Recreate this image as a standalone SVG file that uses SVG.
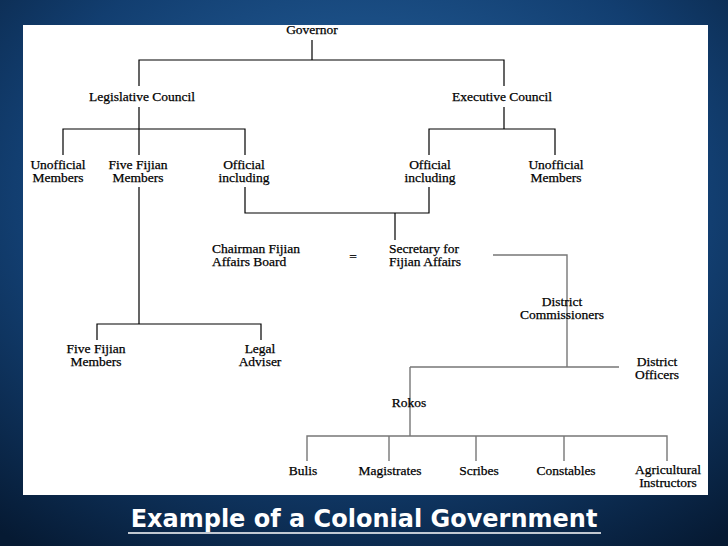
<svg xmlns="http://www.w3.org/2000/svg" width="728" height="546" viewBox="0 0 728 546">
<defs>
<radialGradient id="bg" cx="0.5" cy="0.35" r="0.8">
<stop offset="0" stop-color="#2a6aa8"/><stop offset="0.6" stop-color="#123e70"/><stop offset="1" stop-color="#061a33"/>
</radialGradient>
</defs>
<style>
text{font-family:"Liberation Serif",serif;font-size:13.5px;fill:#000;stroke:#000;stroke-width:0.25}
.t{text-anchor:middle}
.c{stroke:#000;stroke-width:1.2;fill:none}
.g{stroke:#777;stroke-width:1.4;fill:none}
</style>
<rect width="728" height="546" fill="url(#bg)"/>
<rect x="23" y="25" width="685" height="470" fill="#fff"/>
<g id="connectors">
<path class="c" d="M312 40V60M139 86V60H504V86"/>
<path class="c" d="M139 107V155M63 155V129H245V155"/>
<path class="c" d="M504 107V129M429 155V129H555V155"/>
<path class="c" d="M245 187V213H429V187M395 213V240"/>
<path class="c" d="M139 187V324M97 340V324H261V340"/>
<path class="g" d="M493 255H567V367M410 367H619M410 367V436M307 461V436H667V461M389 436V461M476 436V461M564 436V461"/>
</g>
<g id="governor"><text class="t" x="312" y="34">Governor</text></g>
<g id="legislative"><text class="t" x="142" y="101">Legislative Council</text></g>
<g id="executive"><text class="t" x="502" y="101">Executive Council</text></g>
<g id="leg-unofficial"><text class="t" x="58" y="169">Unofficial</text><text class="t" x="58" y="182">Members</text></g>
<g id="leg-fivefijian"><text class="t" x="138" y="169">Five Fijian</text><text class="t" x="138" y="182">Members</text></g>
<g id="leg-official"><text class="t" x="244" y="169">Official</text><text class="t" x="244" y="182">including</text></g>
<g id="exe-official"><text class="t" x="430" y="169">Official</text><text class="t" x="430" y="182">including</text></g>
<g id="exe-unofficial"><text class="t" x="556" y="169">Unofficial</text><text class="t" x="556" y="182">Members</text></g>
<g id="chairman"><text x="212" y="253">Chairman Fijian</text><text x="212" y="266">Affairs Board</text></g>
<g id="equals"><text class="t" x="353" y="261">=</text></g>
<g id="secretary"><text x="389" y="253">Secretary for</text><text x="389" y="266">Fijian Affairs</text></g>
<g id="district-commissioners"><text class="t" x="562" y="306">District</text><text class="t" x="562" y="319">Commissioners</text></g>
<g id="district-officers"><text class="t" x="657" y="366">District</text><text class="t" x="657" y="379">Officers</text></g>
<g id="five-fijian-2"><text class="t" x="96" y="353">Five Fijian</text><text class="t" x="96" y="366">Members</text></g>
<g id="legal-adviser"><text class="t" x="260" y="353">Legal</text><text class="t" x="260" y="366">Adviser</text></g>
<g id="rokos"><text class="t" x="409" y="407">Rokos</text></g>
<g id="bulis"><text class="t" x="303" y="475">Bulis</text></g>
<g id="magistrates"><text class="t" x="390" y="475">Magistrates</text></g>
<g id="scribes"><text class="t" x="479" y="475">Scribes</text></g>
<g id="constables"><text class="t" x="566" y="475">Constables</text></g>
<g id="agricultural"><text class="t" x="668" y="474">Agricultural</text><text class="t" x="668" y="487">Instructors</text></g>
<text x="364" y="527" style="font-family:'DejaVu Sans',sans-serif;font-size:24px;font-weight:bold;fill:#fff;stroke:none" text-anchor="middle">Example of a Colonial Government</text>
<line x1="128" y1="533" x2="601" y2="533" stroke="#fff" stroke-width="1.5"/>
</svg>
